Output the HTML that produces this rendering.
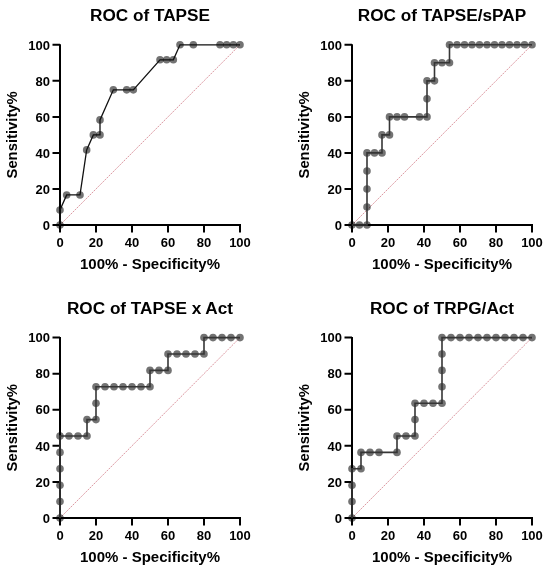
<!DOCTYPE html><html><head><meta charset="utf-8"><title>ROC curves</title><style>html,body{margin:0;padding:0;background:#fff;}svg{display:block;}text{font-family:'Liberation Sans', Arial, sans-serif;font-weight:bold;fill:#000;}</style></head><body>
<svg width="550" height="573" viewBox="0 0 550 573">
<rect width="550" height="573" fill="#fff"/>
<g><line x1="60" y1="225" x2="240" y2="44.8" stroke="#d4848f" stroke-width="0.85" stroke-dasharray="2 1"/><path d="M60 44.3V232.5M52.5 225H241" stroke="#000" stroke-width="2" fill="none"/><path d="M52.5 188.96H60M96 225V232.5M52.5 152.92H60M132 225V232.5M52.5 116.88H60M168 225V232.5M52.5 80.84H60M204 225V232.5M52.5 44.8H60M240 225V232.5" stroke="#000" stroke-width="2" fill="none"/><text x="50" y="229.7" font-size="13" text-anchor="end">0</text><text x="60" y="247.2" font-size="13" text-anchor="middle">0</text><text x="50" y="193.66" font-size="13" text-anchor="end">20</text><text x="96" y="247.2" font-size="13" text-anchor="middle">20</text><text x="50" y="157.62" font-size="13" text-anchor="end">40</text><text x="132" y="247.2" font-size="13" text-anchor="middle">40</text><text x="50" y="121.58" font-size="13" text-anchor="end">60</text><text x="168" y="247.2" font-size="13" text-anchor="middle">60</text><text x="50" y="85.54" font-size="13" text-anchor="end">80</text><text x="204" y="247.2" font-size="13" text-anchor="middle">80</text><text x="50" y="49.5" font-size="13" text-anchor="end">100</text><text x="240" y="247.2" font-size="13" text-anchor="middle">100</text><text x="150" y="268.8" font-size="15" text-anchor="middle">100% - Specificity%</text><text transform="translate(17.4 134.9) rotate(-90)" x="0" y="0" font-size="14.8" text-anchor="middle">Sensitivity%</text><text x="150" y="21" font-size="17.2" text-anchor="middle">ROC of TAPSE</text><circle cx="60" cy="225" r="3.8" fill="#000" fill-opacity="0.55"/><circle cx="60" cy="209.98" r="3.8" fill="#000" fill-opacity="0.55"/><circle cx="66.67" cy="194.97" r="3.8" fill="#000" fill-opacity="0.55"/><circle cx="80" cy="194.97" r="3.8" fill="#000" fill-opacity="0.55"/><circle cx="86.67" cy="149.92" r="3.8" fill="#000" fill-opacity="0.55"/><circle cx="93.33" cy="134.9" r="3.8" fill="#000" fill-opacity="0.55"/><circle cx="100" cy="134.9" r="3.8" fill="#000" fill-opacity="0.55"/><circle cx="100" cy="119.88" r="3.8" fill="#000" fill-opacity="0.55"/><circle cx="113.33" cy="89.85" r="3.8" fill="#000" fill-opacity="0.55"/><circle cx="126.67" cy="89.85" r="3.8" fill="#000" fill-opacity="0.55"/><circle cx="133.33" cy="89.85" r="3.8" fill="#000" fill-opacity="0.55"/><circle cx="160" cy="59.82" r="3.8" fill="#000" fill-opacity="0.55"/><circle cx="166.67" cy="59.82" r="3.8" fill="#000" fill-opacity="0.55"/><circle cx="173.33" cy="59.82" r="3.8" fill="#000" fill-opacity="0.55"/><circle cx="180" cy="44.8" r="3.8" fill="#000" fill-opacity="0.55"/><circle cx="193.33" cy="44.8" r="3.8" fill="#000" fill-opacity="0.55"/><circle cx="220" cy="44.8" r="3.8" fill="#000" fill-opacity="0.55"/><circle cx="226.67" cy="44.8" r="3.8" fill="#000" fill-opacity="0.55"/><circle cx="233.33" cy="44.8" r="3.8" fill="#000" fill-opacity="0.55"/><circle cx="240" cy="44.8" r="3.8" fill="#000" fill-opacity="0.55"/><path d="M60 225 L60 209.98 L66.67 194.97 L80 194.97 L86.67 149.92 L93.33 134.9 L100 134.9 L100 119.88 L113.33 89.85 L126.67 89.85 L133.33 89.85 L160 59.82 L166.67 59.82 L173.33 59.82 L180 44.8 L193.33 44.8 L220 44.8 L226.67 44.8 L233.33 44.8 L240 44.8" stroke="#111" stroke-width="1.3" fill="none" stroke-linejoin="miter"/></g>
<g><line x1="352" y1="225" x2="532" y2="44.8" stroke="#d4848f" stroke-width="0.85" stroke-dasharray="2 1"/><path d="M352 44.3V232.5M344.5 225H533" stroke="#000" stroke-width="2" fill="none"/><path d="M344.5 188.96H352M388 225V232.5M344.5 152.92H352M424 225V232.5M344.5 116.88H352M460 225V232.5M344.5 80.84H352M496 225V232.5M344.5 44.8H352M532 225V232.5" stroke="#000" stroke-width="2" fill="none"/><text x="342" y="229.7" font-size="13" text-anchor="end">0</text><text x="352" y="247.2" font-size="13" text-anchor="middle">0</text><text x="342" y="193.66" font-size="13" text-anchor="end">20</text><text x="388" y="247.2" font-size="13" text-anchor="middle">20</text><text x="342" y="157.62" font-size="13" text-anchor="end">40</text><text x="424" y="247.2" font-size="13" text-anchor="middle">40</text><text x="342" y="121.58" font-size="13" text-anchor="end">60</text><text x="460" y="247.2" font-size="13" text-anchor="middle">60</text><text x="342" y="85.54" font-size="13" text-anchor="end">80</text><text x="496" y="247.2" font-size="13" text-anchor="middle">80</text><text x="342" y="49.5" font-size="13" text-anchor="end">100</text><text x="532" y="247.2" font-size="13" text-anchor="middle">100</text><text x="442" y="268.8" font-size="15" text-anchor="middle">100% - Specificity%</text><text transform="translate(309.4 134.9) rotate(-90)" x="0" y="0" font-size="14.8" text-anchor="middle">Sensitivity%</text><text x="442" y="21" font-size="17.2" text-anchor="middle">ROC of TAPSE/sPAP</text><circle cx="352" cy="225" r="3.8" fill="#000" fill-opacity="0.55"/><circle cx="359.5" cy="225" r="3.8" fill="#000" fill-opacity="0.55"/><circle cx="367" cy="225" r="3.8" fill="#000" fill-opacity="0.55"/><circle cx="367" cy="206.98" r="3.8" fill="#000" fill-opacity="0.55"/><circle cx="367" cy="188.96" r="3.8" fill="#000" fill-opacity="0.55"/><circle cx="367" cy="170.94" r="3.8" fill="#000" fill-opacity="0.55"/><circle cx="367" cy="152.92" r="3.8" fill="#000" fill-opacity="0.55"/><circle cx="374.5" cy="152.92" r="3.8" fill="#000" fill-opacity="0.55"/><circle cx="382" cy="152.92" r="3.8" fill="#000" fill-opacity="0.55"/><circle cx="382" cy="134.9" r="3.8" fill="#000" fill-opacity="0.55"/><circle cx="389.5" cy="134.9" r="3.8" fill="#000" fill-opacity="0.55"/><circle cx="389.5" cy="116.88" r="3.8" fill="#000" fill-opacity="0.55"/><circle cx="397" cy="116.88" r="3.8" fill="#000" fill-opacity="0.55"/><circle cx="404.5" cy="116.88" r="3.8" fill="#000" fill-opacity="0.55"/><circle cx="419.5" cy="116.88" r="3.8" fill="#000" fill-opacity="0.55"/><circle cx="427" cy="116.88" r="3.8" fill="#000" fill-opacity="0.55"/><circle cx="427" cy="98.86" r="3.8" fill="#000" fill-opacity="0.55"/><circle cx="427" cy="80.84" r="3.8" fill="#000" fill-opacity="0.55"/><circle cx="434.5" cy="80.84" r="3.8" fill="#000" fill-opacity="0.55"/><circle cx="434.5" cy="62.82" r="3.8" fill="#000" fill-opacity="0.55"/><circle cx="442" cy="62.82" r="3.8" fill="#000" fill-opacity="0.55"/><circle cx="449.5" cy="62.82" r="3.8" fill="#000" fill-opacity="0.55"/><circle cx="449.5" cy="44.8" r="3.8" fill="#000" fill-opacity="0.55"/><circle cx="457" cy="44.8" r="3.8" fill="#000" fill-opacity="0.55"/><circle cx="464.5" cy="44.8" r="3.8" fill="#000" fill-opacity="0.55"/><circle cx="472" cy="44.8" r="3.8" fill="#000" fill-opacity="0.55"/><circle cx="479.5" cy="44.8" r="3.8" fill="#000" fill-opacity="0.55"/><circle cx="487" cy="44.8" r="3.8" fill="#000" fill-opacity="0.55"/><circle cx="494.5" cy="44.8" r="3.8" fill="#000" fill-opacity="0.55"/><circle cx="502" cy="44.8" r="3.8" fill="#000" fill-opacity="0.55"/><circle cx="509.5" cy="44.8" r="3.8" fill="#000" fill-opacity="0.55"/><circle cx="517" cy="44.8" r="3.8" fill="#000" fill-opacity="0.55"/><circle cx="524.5" cy="44.8" r="3.8" fill="#000" fill-opacity="0.55"/><circle cx="532" cy="44.8" r="3.8" fill="#000" fill-opacity="0.55"/><path d="M352 225 L359.5 225 L367 225 L367 206.98 L367 188.96 L367 170.94 L367 152.92 L374.5 152.92 L382 152.92 L382 134.9 L389.5 134.9 L389.5 116.88 L397 116.88 L404.5 116.88 L419.5 116.88 L427 116.88 L427 98.86 L427 80.84 L434.5 80.84 L434.5 62.82 L442 62.82 L449.5 62.82 L449.5 44.8 L457 44.8 L464.5 44.8 L472 44.8 L479.5 44.8 L487 44.8 L494.5 44.8 L502 44.8 L509.5 44.8 L517 44.8 L524.5 44.8 L532 44.8" stroke="#363636" stroke-width="1.6" fill="none" stroke-linejoin="miter"/></g>
<g><line x1="60" y1="518" x2="240" y2="337.6" stroke="#d4848f" stroke-width="0.85" stroke-dasharray="2 1"/><path d="M60 337.1V525.5M52.5 518H241" stroke="#000" stroke-width="2" fill="none"/><path d="M52.5 481.92H60M96 518V525.5M52.5 445.84H60M132 518V525.5M52.5 409.76H60M168 518V525.5M52.5 373.68H60M204 518V525.5M52.5 337.6H60M240 518V525.5" stroke="#000" stroke-width="2" fill="none"/><text x="50" y="522.7" font-size="13" text-anchor="end">0</text><text x="60" y="540.2" font-size="13" text-anchor="middle">0</text><text x="50" y="486.62" font-size="13" text-anchor="end">20</text><text x="96" y="540.2" font-size="13" text-anchor="middle">20</text><text x="50" y="450.54" font-size="13" text-anchor="end">40</text><text x="132" y="540.2" font-size="13" text-anchor="middle">40</text><text x="50" y="414.46" font-size="13" text-anchor="end">60</text><text x="168" y="540.2" font-size="13" text-anchor="middle">60</text><text x="50" y="378.38" font-size="13" text-anchor="end">80</text><text x="204" y="540.2" font-size="13" text-anchor="middle">80</text><text x="50" y="342.3" font-size="13" text-anchor="end">100</text><text x="240" y="540.2" font-size="13" text-anchor="middle">100</text><text x="150" y="561.8" font-size="15" text-anchor="middle">100% - Specificity%</text><text transform="translate(17.4 427.8) rotate(-90)" x="0" y="0" font-size="14.8" text-anchor="middle">Sensitivity%</text><text x="150" y="314" font-size="17.2" text-anchor="middle">ROC of TAPSE x Act</text><circle cx="60" cy="518" r="3.8" fill="#000" fill-opacity="0.55"/><circle cx="60" cy="501.6" r="3.8" fill="#000" fill-opacity="0.55"/><circle cx="60" cy="485.2" r="3.8" fill="#000" fill-opacity="0.55"/><circle cx="60" cy="468.8" r="3.8" fill="#000" fill-opacity="0.55"/><circle cx="60" cy="452.4" r="3.8" fill="#000" fill-opacity="0.55"/><circle cx="60" cy="436" r="3.8" fill="#000" fill-opacity="0.55"/><circle cx="69" cy="436" r="3.8" fill="#000" fill-opacity="0.55"/><circle cx="78" cy="436" r="3.8" fill="#000" fill-opacity="0.55"/><circle cx="87" cy="436" r="3.8" fill="#000" fill-opacity="0.55"/><circle cx="87" cy="419.6" r="3.8" fill="#000" fill-opacity="0.55"/><circle cx="96" cy="419.6" r="3.8" fill="#000" fill-opacity="0.55"/><circle cx="96" cy="403.2" r="3.8" fill="#000" fill-opacity="0.55"/><circle cx="96" cy="386.8" r="3.8" fill="#000" fill-opacity="0.55"/><circle cx="105" cy="386.8" r="3.8" fill="#000" fill-opacity="0.55"/><circle cx="114" cy="386.8" r="3.8" fill="#000" fill-opacity="0.55"/><circle cx="123" cy="386.8" r="3.8" fill="#000" fill-opacity="0.55"/><circle cx="132" cy="386.8" r="3.8" fill="#000" fill-opacity="0.55"/><circle cx="141" cy="386.8" r="3.8" fill="#000" fill-opacity="0.55"/><circle cx="150" cy="386.8" r="3.8" fill="#000" fill-opacity="0.55"/><circle cx="150" cy="370.4" r="3.8" fill="#000" fill-opacity="0.55"/><circle cx="159" cy="370.4" r="3.8" fill="#000" fill-opacity="0.55"/><circle cx="168" cy="370.4" r="3.8" fill="#000" fill-opacity="0.55"/><circle cx="168" cy="354" r="3.8" fill="#000" fill-opacity="0.55"/><circle cx="177" cy="354" r="3.8" fill="#000" fill-opacity="0.55"/><circle cx="186" cy="354" r="3.8" fill="#000" fill-opacity="0.55"/><circle cx="195" cy="354" r="3.8" fill="#000" fill-opacity="0.55"/><circle cx="204" cy="354" r="3.8" fill="#000" fill-opacity="0.55"/><circle cx="204" cy="337.6" r="3.8" fill="#000" fill-opacity="0.55"/><circle cx="213" cy="337.6" r="3.8" fill="#000" fill-opacity="0.55"/><circle cx="222" cy="337.6" r="3.8" fill="#000" fill-opacity="0.55"/><circle cx="231" cy="337.6" r="3.8" fill="#000" fill-opacity="0.55"/><circle cx="240" cy="337.6" r="3.8" fill="#000" fill-opacity="0.55"/><path d="M60 518 L60 501.6 L60 485.2 L60 468.8 L60 452.4 L60 436 L69 436 L78 436 L87 436 L87 419.6 L96 419.6 L96 403.2 L96 386.8 L105 386.8 L114 386.8 L123 386.8 L132 386.8 L141 386.8 L150 386.8 L150 370.4 L159 370.4 L168 370.4 L168 354 L177 354 L186 354 L195 354 L204 354 L204 337.6 L213 337.6 L222 337.6 L231 337.6 L240 337.6" stroke="#363636" stroke-width="1.6" fill="none" stroke-linejoin="miter"/></g>
<g><line x1="352" y1="518" x2="532" y2="337.6" stroke="#d4848f" stroke-width="0.85" stroke-dasharray="2 1"/><path d="M352 337.1V525.5M344.5 518H533" stroke="#000" stroke-width="2" fill="none"/><path d="M344.5 481.92H352M388 518V525.5M344.5 445.84H352M424 518V525.5M344.5 409.76H352M460 518V525.5M344.5 373.68H352M496 518V525.5M344.5 337.6H352M532 518V525.5" stroke="#000" stroke-width="2" fill="none"/><text x="342" y="522.7" font-size="13" text-anchor="end">0</text><text x="352" y="540.2" font-size="13" text-anchor="middle">0</text><text x="342" y="486.62" font-size="13" text-anchor="end">20</text><text x="388" y="540.2" font-size="13" text-anchor="middle">20</text><text x="342" y="450.54" font-size="13" text-anchor="end">40</text><text x="424" y="540.2" font-size="13" text-anchor="middle">40</text><text x="342" y="414.46" font-size="13" text-anchor="end">60</text><text x="460" y="540.2" font-size="13" text-anchor="middle">60</text><text x="342" y="378.38" font-size="13" text-anchor="end">80</text><text x="496" y="540.2" font-size="13" text-anchor="middle">80</text><text x="342" y="342.3" font-size="13" text-anchor="end">100</text><text x="532" y="540.2" font-size="13" text-anchor="middle">100</text><text x="442" y="561.8" font-size="15" text-anchor="middle">100% - Specificity%</text><text transform="translate(309.4 427.8) rotate(-90)" x="0" y="0" font-size="14.8" text-anchor="middle">Sensitivity%</text><text x="442" y="314" font-size="17.2" text-anchor="middle">ROC of TRPG/Act</text><circle cx="352" cy="518" r="3.8" fill="#000" fill-opacity="0.55"/><circle cx="352" cy="501.6" r="3.8" fill="#000" fill-opacity="0.55"/><circle cx="352" cy="485.2" r="3.8" fill="#000" fill-opacity="0.55"/><circle cx="352" cy="468.8" r="3.8" fill="#000" fill-opacity="0.55"/><circle cx="361" cy="468.8" r="3.8" fill="#000" fill-opacity="0.55"/><circle cx="361" cy="452.4" r="3.8" fill="#000" fill-opacity="0.55"/><circle cx="370" cy="452.4" r="3.8" fill="#000" fill-opacity="0.55"/><circle cx="379" cy="452.4" r="3.8" fill="#000" fill-opacity="0.55"/><circle cx="397" cy="452.4" r="3.8" fill="#000" fill-opacity="0.55"/><circle cx="397" cy="436" r="3.8" fill="#000" fill-opacity="0.55"/><circle cx="406" cy="436" r="3.8" fill="#000" fill-opacity="0.55"/><circle cx="415" cy="436" r="3.8" fill="#000" fill-opacity="0.55"/><circle cx="415" cy="419.6" r="3.8" fill="#000" fill-opacity="0.55"/><circle cx="415" cy="403.2" r="3.8" fill="#000" fill-opacity="0.55"/><circle cx="424" cy="403.2" r="3.8" fill="#000" fill-opacity="0.55"/><circle cx="433" cy="403.2" r="3.8" fill="#000" fill-opacity="0.55"/><circle cx="442" cy="403.2" r="3.8" fill="#000" fill-opacity="0.55"/><circle cx="442" cy="386.8" r="3.8" fill="#000" fill-opacity="0.55"/><circle cx="442" cy="370.4" r="3.8" fill="#000" fill-opacity="0.55"/><circle cx="442" cy="354" r="3.8" fill="#000" fill-opacity="0.55"/><circle cx="442" cy="337.6" r="3.8" fill="#000" fill-opacity="0.55"/><circle cx="451" cy="337.6" r="3.8" fill="#000" fill-opacity="0.55"/><circle cx="460" cy="337.6" r="3.8" fill="#000" fill-opacity="0.55"/><circle cx="469" cy="337.6" r="3.8" fill="#000" fill-opacity="0.55"/><circle cx="478" cy="337.6" r="3.8" fill="#000" fill-opacity="0.55"/><circle cx="487" cy="337.6" r="3.8" fill="#000" fill-opacity="0.55"/><circle cx="496" cy="337.6" r="3.8" fill="#000" fill-opacity="0.55"/><circle cx="505" cy="337.6" r="3.8" fill="#000" fill-opacity="0.55"/><circle cx="514" cy="337.6" r="3.8" fill="#000" fill-opacity="0.55"/><circle cx="523" cy="337.6" r="3.8" fill="#000" fill-opacity="0.55"/><circle cx="532" cy="337.6" r="3.8" fill="#000" fill-opacity="0.55"/><path d="M352 518 L352 501.6 L352 485.2 L352 468.8 L361 468.8 L361 452.4 L370 452.4 L379 452.4 L397 452.4 L397 436 L406 436 L415 436 L415 419.6 L415 403.2 L424 403.2 L433 403.2 L442 403.2 L442 386.8 L442 370.4 L442 354 L442 337.6 L451 337.6 L460 337.6 L469 337.6 L478 337.6 L487 337.6 L496 337.6 L505 337.6 L514 337.6 L523 337.6 L532 337.6" stroke="#363636" stroke-width="1.6" fill="none" stroke-linejoin="miter"/></g>
</svg></body></html>
